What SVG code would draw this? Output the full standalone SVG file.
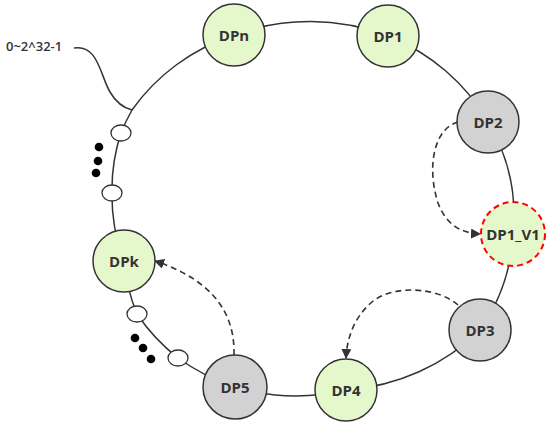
<svg xmlns="http://www.w3.org/2000/svg" width="550" height="425" viewBox="0 0 550 425">
<defs>
<style>
.ring{fill:none;stroke:#333;stroke-width:1.5}
.dash{fill:none;stroke:#333;stroke-width:1.6;stroke-dasharray:6 4}
.g{fill:#e5f8cc;stroke:#333;stroke-width:1.5}
.gr{fill:#d2d2d2;stroke:#333;stroke-width:1.5}
.v{fill:#e5f8cc;stroke:#f00;stroke-width:2;stroke-dasharray:6 4}
.s{fill:#fff;stroke:#333;stroke-width:1.3}
.t{font-family:"Open Sans","Noto Sans",sans-serif;font-weight:bold;font-size:15px;fill:#333;text-anchor:middle;dominant-baseline:central}
.l{font-family:"Open Sans","Noto Sans",sans-serif;font-weight:600;font-size:13px;fill:#333}
</style>
<marker id="ah" viewBox="0 0 10 10" refX="9" refY="5" markerWidth="10" markerHeight="10" markerUnits="userSpaceOnUse" orient="auto">
<path d="M0,0 L10,5 L0,10 Z" fill="#333"/>
</marker>
</defs>
<g id="connectors">
<path class="ring" d="M234,35 A205 192 0 0 1 388,36 A205 192 0 0 1 488,122 A205 192 0 0 1 513,234 A205 192 0 0 1 480,330 A205 192 0 0 1 346,390 A205 192 0 0 1 235,387 A205 192 0 0 1 178,358 A205 192 0 0 1 137,314 A205 192 0 0 1 124,261 A205 192 0 0 1 112,193 A205 192 0 0 1 121,133 A205 192 0 0 1 132,110 A205 192 0 0 1 234,35 Z"/>
<path class="ring" d="M74,48 C98,44 100,75 110,92 C117,104 124,108 132,110"/>
<path class="dash" marker-end="url(#ah)" d="M458,122 C435,128 426,165 438,203 C446,224 460,233 480,234"/>
<path class="dash" marker-end="url(#ah)" d="M458,305 C440,289 400,284 376,299 C356,313 347,336 346,358"/>
<path class="dash" marker-end="url(#ah)" d="M234,355 C235,318 218,282 155,261"/>
</g>
<g id="marks">
<ellipse class="s" cx="121" cy="133" rx="10" ry="8"/>
<ellipse class="s" cx="112" cy="193" rx="10" ry="8"/>
<ellipse class="s" cx="137" cy="314" rx="10" ry="8"/>
<ellipse class="s" cx="178" cy="358" rx="10" ry="8"/>
<circle cx="99" cy="147" r="4.3" fill="#000"/>
<circle cx="98" cy="161" r="4.3" fill="#000"/>
<circle cx="96" cy="173" r="4.3" fill="#000"/>
<circle cx="135" cy="338" r="4.3" fill="#000"/>
<circle cx="143" cy="348" r="4.3" fill="#000"/>
<circle cx="151" cy="359" r="4.3" fill="#000"/>
<text class="l" x="6" y="51">0~2^32-1</text>
</g>
<g id="DPn"><circle class="g" cx="234" cy="35" r="31"/><text class="t" x="234" y="35">DPn</text></g>
<g id="DP1"><circle class="g" cx="388" cy="36" r="31"/><text class="t" x="388" y="36">DP1</text></g>
<g id="DP2"><circle class="gr" cx="488" cy="122" r="31"/><text class="t" x="488" y="122">DP2</text></g>
<g id="DP1_V1"><circle class="v" cx="513" cy="234" r="32"/><text class="t" x="513" y="234">DP1_V1</text></g>
<g id="DP3"><circle class="gr" cx="480" cy="330" r="31"/><text class="t" x="480" y="330">DP3</text></g>
<g id="DP4"><circle class="g" cx="346" cy="390" r="31"/><text class="t" x="346" y="390">DP4</text></g>
<g id="DP5"><circle class="gr" cx="235" cy="387" r="32"/><text class="t" x="235" y="387">DP5</text></g>
<g id="DPk"><circle class="g" cx="124" cy="261" r="31"/><text class="t" x="124" y="261">DPk</text></g>
</svg>
